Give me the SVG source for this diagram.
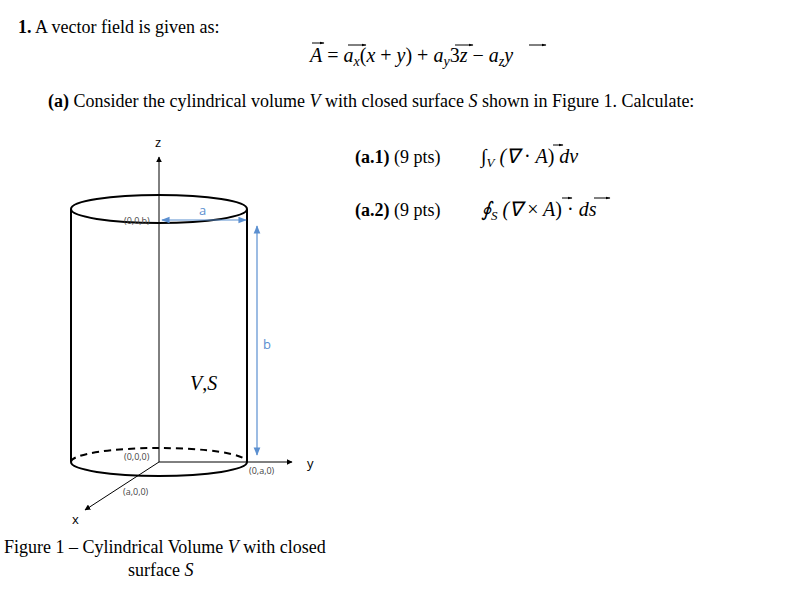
<svg xmlns="http://www.w3.org/2000/svg" width="785" height="592" viewBox="0 0 785 592">
<style>
.t{font-family:"Liberation Serif",serif;font-size:18px;fill:#000}
.m{font-family:"Liberation Serif",serif;font-style:italic;font-size:20px;fill:#000}
.s{font-family:"Open Sans","DejaVu Sans",sans-serif;font-size:9px;fill:#444}
.ax{font-family:"Open Sans","DejaVu Sans",sans-serif;font-size:13px;fill:#000}
.k{stroke:#000;stroke-width:2;fill:none}
.b{stroke:#5b8fd0;stroke-width:1.2;fill:none}
.v{stroke:#000;stroke-width:1;fill:none}
</style>
<defs>
<marker id="ah" viewBox="0 0 10 10" refX="9" refY="5" markerWidth="6" markerHeight="6" orient="auto"><path d="M0,0L10,5L0,10z" fill="#000"/></marker>
<marker id="bh" viewBox="0 0 10 10" refX="9" refY="5" markerWidth="7" markerHeight="7" orient="auto-start-reverse"><path d="M0,1L10,5L0,9z" fill="#5b8fd0"/></marker>
<marker id="sa" viewBox="0 0 10 10" refX="9" refY="5" markerWidth="5" markerHeight="5" orient="auto"><path d="M0,2L10,5L0,8z" fill="#000"/></marker>
</defs>
<rect width="785" height="592" fill="#fff"/>
<text class="t" x="18" y="33"><tspan font-weight="bold">1.</tspan> A vector field is given as:</text>
<g id="formula">
<text class="m" x="310" y="62">A<tspan font-style="normal"> = </tspan>a<tspan font-size="14" dy="4">x</tspan><tspan dy="-4" font-style="normal">(</tspan>x<tspan font-style="normal"> + </tspan>y<tspan font-style="normal">) + </tspan>a<tspan font-size="14" dy="4">y</tspan><tspan dy="-4" font-style="normal">3</tspan>z<tspan font-style="normal"> − </tspan>a<tspan font-size="14" dy="4">z</tspan><tspan dy="-4">y</tspan></text>
<g class="v" marker-end="url(#sa)">
<line x1="312" y1="43" x2="324" y2="43"/>
<line x1="348" y1="45" x2="366" y2="45"/>
<line x1="455" y1="45" x2="473" y2="45"/>
<line x1="529" y1="45" x2="546" y2="45"/>
</g>
</g>
<text class="t" x="48" y="107"><tspan font-weight="bold">(a)</tspan> Consider the cylindrical volume <tspan font-style="italic">V</tspan> with closed surface <tspan font-style="italic">S</tspan> shown in Figure 1. Calculate:</text>
<text class="t" x="355" y="163"><tspan font-weight="bold">(a.1)</tspan> (9 pts)</text>
<text class="t" x="355" y="216"><tspan font-weight="bold">(a.2)</tspan> (9 pts)</text>
<g id="eq1">
<text class="m" x="481" y="163">∫<tspan font-size="13" dy="4">V</tspan><tspan dy="-4" font-size="20"> (</tspan>∇ <tspan font-style="normal">·</tspan> A<tspan font-style="normal">)</tspan> dv</text>
<line class="v" x1="553" y1="145" x2="563" y2="145" marker-end="url(#sa)"/>
</g>
<g id="eq2">
<text class="m" x="481" y="216">∮<tspan font-size="13" dy="4">S</tspan><tspan dy="-4" font-size="20"> (</tspan>∇ <tspan font-style="normal">×</tspan> A<tspan font-style="normal">)</tspan><tspan font-style="normal"> · </tspan>ds</text>
<line class="v" x1="562" y1="198" x2="572" y2="198" marker-end="url(#sa)"/>
<line class="v" x1="594" y1="198" x2="610" y2="198" marker-end="url(#sa)"/>
</g>
<g id="figure">
<line class="k" x1="71" y1="209" x2="71" y2="462"/>
<line class="k" x1="247" y1="209" x2="247" y2="462"/>
<ellipse class="k" cx="159" cy="209" rx="88" ry="14"/>
<path class="k" d="M71,462 A88,14 0 0 0 247,462"/>
<path class="k" d="M71,462 A88,14 0 0 1 247,462" stroke-dasharray="7,5"/>
<line class="v" stroke-width="1.5" x1="159" y1="462" x2="159" y2="157" marker-end="url(#ah)"/>
<line class="v" stroke-width="1.5" x1="159" y1="462" x2="292" y2="462" marker-end="url(#ah)"/>
<line class="v" stroke-width="1.5" x1="159" y1="462" x2="85" y2="510" marker-end="url(#ah)"/>
<text class="ax" x="155" y="147">z</text>
<text class="ax" x="307" y="468">y</text>
<text class="ax" x="72" y="524">x</text>
<line class="b" x1="162" y1="220" x2="246" y2="220" marker-start="url(#bh)" marker-end="url(#bh)"/>
<text class="ax" x="199" y="215" fill="#5b8fd0" style="fill:#5b8fd0">a</text>
<line class="b" x1="257" y1="226" x2="257" y2="455" marker-start="url(#bh)" marker-end="url(#bh)"/>
<text class="ax" x="263" y="349" style="fill:#5b8fd0">b</text>
<text class="s" x="124" y="224">(0,0,b)</text>
<text class="s" x="124" y="460">(0,0,0)</text>
<text class="s" x="249" y="474">(0,a,0)</text>
<text class="s" x="123" y="495">(a,0,0)</text>
<text class="m" x="190" y="390" font-size="19">V<tspan font-style="normal">,</tspan>S</text>
</g>
<text class="t" x="4" y="553">Figure 1 – Cylindrical Volume <tspan font-style="italic">V</tspan> with closed</text>
<text class="t" x="128" y="576">surface <tspan font-style="italic">S</tspan></text>
</svg>
